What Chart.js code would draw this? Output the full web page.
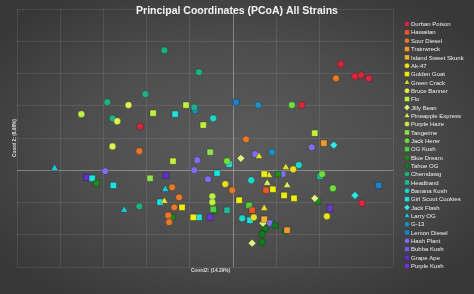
<!DOCTYPE html>
<html><head><meta charset="utf-8">
<script src="https://cdn.jsdelivr.net/npm/chart.js@4"></script>
<style>
html,body{margin:0;padding:0;width:474px;height:294px;overflow:hidden;}
body{background:radial-gradient(ellipse 62% 62% at 50% 50%, #5c5c5c 0%, #4d4d4d 55%, #383838 100%);}
canvas{display:block;}
</style></head><body>
<canvas id="c" width="474" height="294"></canvas>
<script>
// ---- data ----
const titleText = "Principal Coordinates (PCoA) All Strains";
const xAxisTitle = "Coord2: (14.29%)";
const yAxisTitle = "Coord 2: (8.98%)";
const xRange = [-0.5, 0.37];
const yRange = [-0.3, 0.5];

const strainNames = ["Durban Poison","Hawaiian","Sour Diesel","Trainwreck","Island Sweet Skunk","Ak-47","Golden Goat","Green Crack","Bruce Banner","Flo","Jilly Bean","Pineapple Express","Purple Haze","Tangerine","Jack Herer","OG Kush","Blue Dream","Tahoe OG","Chemdawg","Headband","Banana Kush","Girl Scout Cookies","Jack Flash","Larry OG","G-13","Lemon Diesel","Hash Plant","Bubba Kush","Grape Ape","Purple Kush"];
const strainColors = ["#d8283e","#e85a2a","#e8782a","#f09a30","#f0b030","#e8e020","#eeee10","#e0e030","#e0f050","#c0f040","#e0f080","#d8f060","#c0f048","#90e050","#70e040","#50d040","#1f8a1f","#127a20","#20b088","#20b898","#20d8c8","#20e0e0","#30e8e8","#20c8d8","#2090c0","#2080c8","#8070e8","#7060e0","#6030c8","#6a38d0"];
const strainShapes = ["circle","rect","circle","rect","rect","circle","rect","triangle","circle","rect","rectRot","triangle","circle","rect","circle","rect","circle","circle","circle","rect","circle","rect","rectRot","triangle","circle","rect","circle","rect","rect","rect"];

const durbanPoison = [[0.249,0.329],[0.282,0.291],[0.296,0.295],[0.314,0.285],[0.159,0.202],[-0.215,0.136],[0.298,-0.102]];
const hawaiian = [[0.076,-0.062],[0.044,-0.124]];
const sourDiesel = [[0.238,0.285],[0.030,0.096],[-0.217,0.059],[-0.141,-0.053],[-0.125,-0.084],[-0.136,-0.115],[-0.150,-0.140],[-0.148,-0.161],[-0.002,-0.062]];
const trainwreck = [[0.210,0.084],[0.125,-0.186]];
const islandSweetSkunk = [[0.072,-0.152]];
const ak47 = [[-0.018,-0.043],[0.139,0.003],[0.048,-0.146],[0.217,-0.143]];
const goldenGoat = [[0.072,-0.012],[0.092,-0.059],[0.118,-0.078],[0.141,-0.087],[0.014,-0.093],[-0.118,-0.115],[-0.092,-0.146]];
const greenCrack = [[0.060,0.043],[0.083,-0.016],[0.122,0.009],[0.072,-0.118],[-0.159,-0.096]];
const bruceBanner = [[-0.242,0.202],[-0.268,0.152],[-0.279,0.074]];
const flo = [[-0.109,0.202],[-0.185,0.177],[-0.139,0.028],[-0.069,0.140],[0.189,0.115]];
const jillyBean = [[0.018,0.037],[0.189,-0.087],[0.044,-0.226],[0.069,-0.164]];
const pineappleExpress = [[0.079,-0.040],[0.125,-0.047]];
const purpleHaze = [[-0.351,0.174],[-0.048,-0.081],[-0.048,-0.099]];
const tangerine = [[-0.053,0.056],[-0.192,-0.025]];
const jackHerer = [[0.136,0.202],[-0.014,0.028],[0.206,-0.012],[0.231,-0.056]];
const ogKush = [[0.037,-0.109],[-0.046,-0.121]];
const blueDream = [[-0.316,-0.040],[-0.141,-0.146],[-0.042,-0.124],[0.104,-0.012],[0.196,-0.096]];
const tahoeOG = [[0.122,-0.189],[0.074,-0.180],[0.097,-0.171],[0.067,-0.198],[0.067,-0.223]];
const chemdawg = [[-0.159,0.372],[-0.079,0.304],[-0.203,0.236],[-0.291,0.211],[-0.279,0.161],[-0.090,0.195],[-0.217,-0.112]];
const headband = [[-0.014,-0.124],[0.201,-0.019]];
const bananaKush = [[-0.046,0.161],[0.042,-0.031],[0.152,0.016],[0.021,-0.149]];
const girlScoutCookies = [[-0.134,0.174],[-0.326,-0.025],[-0.277,-0.047],[-0.169,-0.099],[-0.079,-0.146],[-0.037,-0.009],[-0.009,0.019],[0.039,-0.155]];
const jackFlash = [[0.233,0.078],[0.282,-0.078]];
const larryOG = [[-0.413,0.006],[-0.157,-0.059],[-0.252,-0.124]];
const g13 = [[-0.088,0.186],[0.058,0.202],[0.090,0.056]];
const lemonDiesel = [[0.007,0.211],[0.337,-0.047]];
const hashPlant = [[-0.083,0.031],[-0.090,0.000],[-0.296,-0.003],[0.051,0.050],[-0.058,-0.028],[0.115,-0.012],[0.085,-0.164],[0.182,0.071]];
const bubbaKush = [];
const grapeApe = [[-0.339,-0.022],[-0.155,-0.016]];
const purpleKush = [[-0.053,-0.146],[0.224,-0.118]];

const strainData = [durbanPoison,hawaiian,sourDiesel,trainwreck,islandSweetSkunk,ak47,goldenGoat,greenCrack,bruceBanner,flo,jillyBean,pineappleExpress,purpleHaze,tangerine,jackHerer,ogKush,blueDream,tahoeOG,chemdawg,headband,bananaKush,girlScoutCookies,jackFlash,larryOG,g13,lemonDiesel,hashPlant,bubbaKush,grapeApe,purpleKush];

const radiusFor = s => s === 'rect' ? 4.4 : s === 'triangle' ? 4.2 : s === 'rectRot' ? 3.9 : 3.4;

const datasets = strainNames.map((name, i) => ({
  label: name,
  data: strainData[i].map(([x, y]) => ({x, y})),
  pointStyle: strainShapes[i],
  pointRadius: radiusFor(strainShapes[i]),
  backgroundColor: strainColors[i],
  borderColor: 'rgba(0,0,0,0.35)',
  borderWidth: 0.7
}));

const overlay = {
  id: 'overlay',
  afterDraw(chart) {
    const ctx = chart.ctx;
    const xs = chart.scales.x, ys = chart.scales.y;
    ctx.save();
    // title
    ctx.fillStyle = '#f2f2f2';
    ctx.font = 'bold 10.5px "Liberation Sans", Arial, sans-serif';
    ctx.textAlign = 'center';
    ctx.textBaseline = 'alphabetic';
    ctx.fillText(titleText, 237, 14);
    // axis titles
    ctx.fillStyle = '#dcdcdc';
    ctx.font = 'bold 4.8px "Liberation Sans", Arial, sans-serif';
    ctx.textAlign = 'right';
    ctx.fillText(xAxisTitle, xs.getPixelForValue(0) - 3, ys.bottom + 5);
    ctx.save();
    ctx.translate(15.5, ys.getPixelForValue(0.1));
    ctx.rotate(-Math.PI / 2);
    ctx.textAlign = 'center';
    ctx.fillText(yAxisTitle, 0, 0);
    ctx.restore();
    // legend
    ctx.font = '6px "Liberation Sans", Arial, sans-serif';
    ctx.textAlign = 'left';
    ctx.textBaseline = 'middle';
    chart.data.datasets.forEach((ds, i) => {
      const y = 24 + i * 8.34;
      ctx.fillStyle = ds.backgroundColor;
      ctx.strokeStyle = 'rgba(0,0,0,0.3)';
      ctx.lineWidth = 0.5;
      const r = ds.pointStyle === 'rect' ? 3.4 : ds.pointStyle === 'circle' ? 2.5 : 3;
      Chart.helpers.drawPoint(ctx, {pointStyle: ds.pointStyle, radius: r, rotation: 0, borderWidth: 0.5}, 407, y);
      ctx.fillStyle = '#eeeeee';
      ctx.fillText(ds.label, 411, y + 0.5);
    });
    ctx.restore();
  }
};

const gridColor = c => (c.tick && Math.abs(c.tick.value) < 1e-9) ? 'rgba(255,255,255,0.32)' : 'rgba(255,255,255,0.09)';

new Chart(document.getElementById('c'), {
  type: 'scatter',
  data: { datasets },
  options: {
    responsive: false,
    animation: false,
    layout: { padding: { left: 17, top: 9, right: 81, bottom: 27 } },
    plugins: { legend: { display: false }, title: { display: false }, tooltip: { enabled: false } },
    scales: {
      x: {
        type: 'linear', min: xRange[0], max: xRange[1],
        ticks: { display: false, stepSize: 0.1 },
        grid: { color: gridColor, drawTicks: false, lineWidth: 1 },
        border: { display: false }
      },
      y: {
        type: 'linear', min: yRange[0], max: yRange[1],
        ticks: { display: false, stepSize: 0.1 },
        grid: { color: gridColor, drawTicks: false, lineWidth: 1 },
        border: { display: false }
      }
    }
  },
  plugins: [overlay]
});
</script>
</body></html>
